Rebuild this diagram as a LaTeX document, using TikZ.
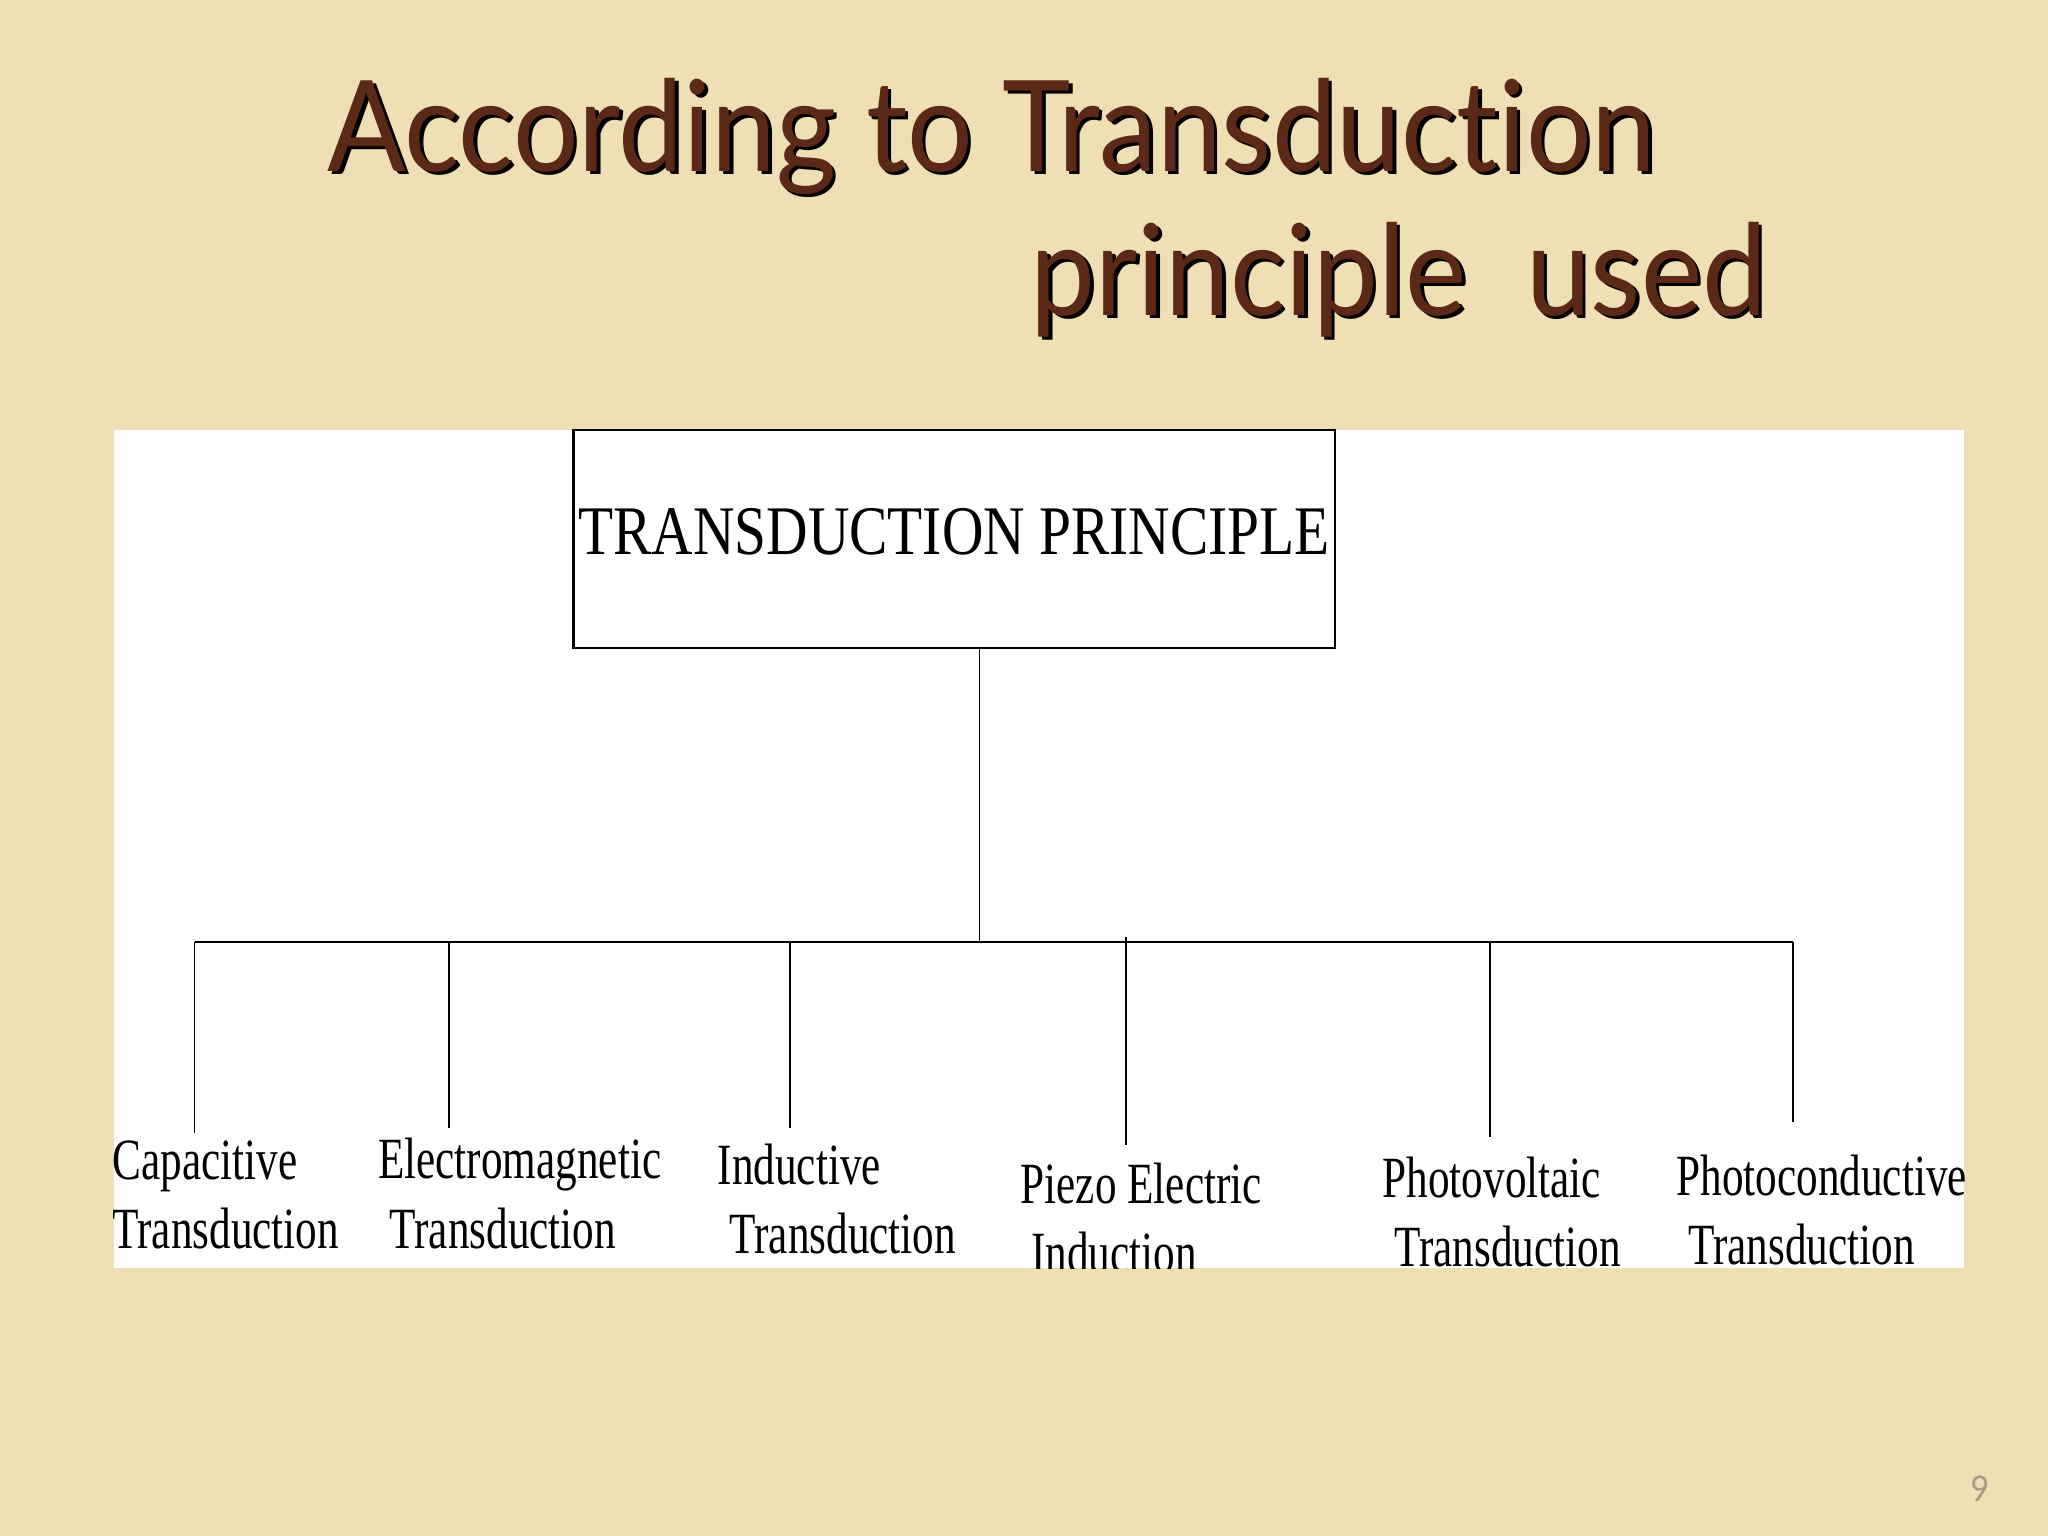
\documentclass[tikz,border=0pt]{standalone}
\usepackage{fontspec}
\setmainfont{Liberation Serif}
\newfontfamily\titlefont[FakeStretch=0.915,Ligatures=NoCommon]{Lato}
\newfontfamily\boxfont[FakeStretch=0.825]{Liberation Serif}
\newfontfamily\leaffont[FakeStretch=0.74]{Liberation Serif}
\usetikzlibrary{calc}
\definecolor{slidebg}{RGB}{238,223,180}
\definecolor{titlebrown}{RGB}{92,40,24}
\definecolor{pagegrey}{RGB}{165,155,130}
\def\shadowshift{3.5}

\tikzset{
  heading/.style={anchor=base west,inner sep=0pt,text=titlebrown,
                  font=\titlefont\fontsize{36}{40}\selectfont},
  leaf/.style={anchor=base west,inner sep=0pt,
               font=\leaffont\fontsize{16.6}{19}\selectfont},
  wire/.style={line width=0.5pt}
}

\begin{document}
\begin{tikzpicture}[x=0.01cm,y=-0.01cm]

\fill[slidebg] (0,0) rectangle (2048,1536);
\useasboundingbox (0,0) rectangle (2048,1536);

% title, shadow first
\node[heading,text=black] (H1s) at ($(327,171)+(\shadowshift,\shadowshift)$) {According to Transduction};
\node[heading] (H1) at (327,171) {According to Transduction};
\node[heading,text=black] (H2s) at ($(1030,315)+(\shadowshift,\shadowshift)$) {principle\ \ used};
\node[heading] (H2) at (1030,315) {principle\ \ used};

\node[text=pagegrey,font=\titlefont\fontsize{10}{12}\selectfont] (pg) at (1980,1489) {9};

% white panel
\fill[white] (113.6,429.7) rectangle (1964.4,1268.2);

\node[draw,line width=0.7pt,minimum width=7.61cm,minimum height=2.18cm,
      inner sep=0pt,text depth=0.14cm,
      font=\boxfont\fontsize{19.8}{22}\selectfont] (TP) at (954.1,538.8) {TRANSDUCTION PRINCIPLE};

\coordinate (J) at (979.6,941.7);

\coordinate (b1) at (194.6,941.7);
\coordinate (b2) at (449.3,941.7);
\coordinate (b3) at (790.2,941.7);
\coordinate (b4) at (1125.9,937);
\coordinate (b5) at (1490.3,941.7);
\coordinate (b6) at (1793.3,941.7);

\coordinate (e1) at (194.6,1133);
\coordinate (e2) at (449.3,1128);
\coordinate (e3) at (790.2,1128);
\coordinate (e4) at (1125.9,1145);
\coordinate (e5) at (1490.3,1137);
\coordinate (e6) at (1793.3,1122);

\begin{scope}
\clip (113.6,429.7) rectangle (1964.4,1268.2);

\node[leaf] (cap1) at (112,1179.5) {Capacitive};
\node[leaf] (cap2) at (112,1248.6) {Transduction};
\node[leaf] (elm1) at (377.5,1178) {Electromagnetic};
\node[leaf] (elm2) at (389,1248.6) {Transduction};
\node[leaf] (ind1) at (717,1184.6) {Inductive};
\node[leaf] (ind2) at (729,1253.8) {Transduction};
\node[leaf] (pie1) at (1020,1203) {Piezo Electric};
\node[leaf] (pie2) at (1030.5,1272) {Induction};
\node[leaf] (pvo1) at (1382,1197.7) {Photovoltaic};
\node[leaf] (pvo2) at (1393.6,1266.9) {Transduction};
\node[leaf] (pco1) at (1675.7,1195) {Photoconductive};
\node[leaf] (pco2) at (1687.5,1264.3) {Transduction};

\end{scope}

\draw[wire] (TP.south -| J) -- (J);
\draw[wire] (b1) -- (b6);

\draw[wire] (b1) -- (e1);
\draw[wire] (b2) -- (e2);
\draw[wire] (b3) -- (e3);
\draw[wire] (b4) -- (e4);
\draw[wire] (b5) -- (e5);
\draw[wire] (b6) -- (e6);

\end{tikzpicture}
\end{document}
